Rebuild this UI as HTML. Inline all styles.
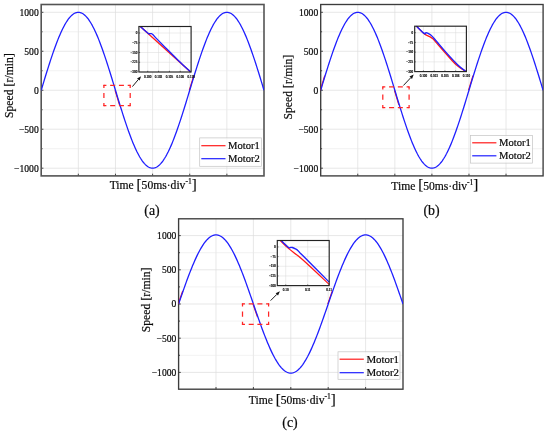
<!DOCTYPE html>
<html lang="en">
<head>
<meta charset="utf-8">
<title>Speed curves</title>
<style>
html,body{margin:0;padding:0;background:#fff;}
body{width:550px;height:434px;overflow:hidden;}
svg{display:block;}
svg text{font-family:'Liberation Serif', 'DejaVu Serif', serif;fill:#0a0a0a;stroke:#0a0a0a;stroke-width:0.2;}
</style>
</head>
<body>
<svg width="550" height="434" viewBox="0 0 550 434">
<rect width="550" height="434" fill="#fff"/>
<path d="M78.33,4.5V175.9M115.47,4.5V175.9M152.6,4.5V175.9M189.73,4.5V175.9M226.87,4.5V175.9" stroke="#dedede" stroke-width="0.7" fill="none"/>
<path d="M41.2,168.2H264M41.2,129.22H264M41.2,90.25H264M41.2,51.28H264M41.2,12.3H264" stroke="#dcdcdc" stroke-width="0.7" fill="none"/>
<path d="M41.2,148.71H264M41.2,109.74H264M41.2,70.76H264M41.2,31.79H264" stroke="#e9e9e9" stroke-width="0.6" fill="none"/>
<path d="M78.33,175.9v-2.2M115.47,175.9v-2.2M152.6,175.9v-2.2M189.73,175.9v-2.2M226.87,175.9v-2.2M41.2,168.2h2.2M41.2,148.71h1.4M41.2,129.22h2.2M41.2,109.74h1.4M41.2,90.25h2.2M41.2,70.76h1.4M41.2,51.28h2.2M41.2,31.79h1.4M41.2,12.3h2.2" stroke="#333" stroke-width="0.9" fill="none"/>
<rect x="41.2" y="4.5" width="222.8" height="171.4" fill="none" stroke="#545454" stroke-width="1.6"/>
<clipPath id="clipa"><rect x="41.2" y="4.5" width="222.8" height="171.4"/></clipPath>
<g clip-path="url(#clipa)">
<path d="M115.07,90.25 L115.62,92.09 L116.18,93.92 L116.74,95.76 L117.29,97.59 L117.85,99.41 L118.41,101.23 L118.97,103.05 L119.52,104.86M189.33,90.25 L189.89,88.41 L190.45,86.58 L191,84.74 L191.56,82.91 L192.12,81.09 L192.68,79.27 L193.23,77.45 L193.79,75.64" stroke="#ff1a1a" stroke-width="1.2" fill="none"/>
<path d="M41.2,90.25 L42.13,87.19 L43.06,84.13 L43.98,81.09 L44.91,78.06 L45.84,75.04 L46.77,72.05 L47.7,69.09 L48.63,66.16 L49.56,63.27 L50.48,60.42 L51.41,57.62 L52.34,54.86 L53.27,52.16 L54.2,49.52 L55.12,46.94 L56.05,44.43 L56.98,41.99 L57.91,39.63 L58.84,37.34 L59.77,35.13 L60.7,33.01 L61.62,30.98 L62.55,29.03 L63.48,27.19 L64.41,25.44 L65.34,23.79 L66.27,22.24 L67.19,20.8 L68.12,19.46 L69.05,18.23 L69.98,17.12 L70.91,16.12 L71.84,15.23 L72.76,14.45 L73.69,13.8 L74.62,13.26 L75.55,12.84 L76.48,12.54 L77.41,12.36 L78.33,12.3 L79.26,12.36 L80.19,12.54 L81.12,12.84 L82.05,13.26 L82.98,13.8 L83.9,14.45 L84.83,15.23 L85.76,16.12 L86.69,17.12 L87.62,18.23 L88.55,19.46 L89.47,20.8 L90.4,22.24 L91.33,23.79 L92.26,25.44 L93.19,27.19 L94.12,29.03 L95.04,30.98 L95.97,33.01 L96.9,35.13 L97.83,37.34 L98.76,39.63 L99.69,41.99 L100.61,44.43 L101.54,46.94 L102.47,49.52 L103.4,52.16 L104.33,54.86 L105.25,57.62 L106.18,60.42 L107.11,63.27 L108.04,66.16 L108.97,69.09 L109.9,72.05 L110.83,75.04 L111.75,78.06 L112.68,81.09 L113.61,84.13 L114.54,87.19 L115.47,90.25 L116.4,93.31 L117.32,96.37 L118.25,99.41 L119.18,102.44 L120.11,105.46 L121.04,108.45 L121.97,111.41 L122.89,114.34 L123.82,117.23 L124.75,120.08 L125.68,122.88 L126.61,125.64 L127.54,128.34 L128.46,130.98 L129.39,133.56 L130.32,136.07 L131.25,138.51 L132.18,140.87 L133.11,143.16 L134.03,145.37 L134.96,147.49 L135.89,149.52 L136.82,151.47 L137.75,153.31 L138.68,155.06 L139.6,156.71 L140.53,158.26 L141.46,159.7 L142.39,161.04 L143.32,162.27 L144.25,163.38 L145.17,164.38 L146.1,165.27 L147.03,166.05 L147.96,166.7 L148.89,167.24 L149.81,167.66 L150.74,167.96 L151.67,168.14 L152.6,168.2 L153.53,168.14 L154.46,167.96 L155.38,167.66 L156.31,167.24 L157.24,166.7 L158.17,166.05 L159.1,165.27 L160.03,164.38 L160.95,163.38 L161.88,162.27 L162.81,161.04 L163.74,159.7 L164.67,158.26 L165.6,156.71 L166.53,155.06 L167.45,153.31 L168.38,151.47 L169.31,149.52 L170.24,147.49 L171.17,145.37 L172.1,143.16 L173.02,140.87 L173.95,138.51 L174.88,136.07 L175.81,133.56 L176.74,130.98 L177.67,128.34 L178.59,125.64 L179.52,122.88 L180.45,120.08 L181.38,117.23 L182.31,114.34 L183.24,111.41 L184.16,108.45 L185.09,105.46 L186.02,102.44 L186.95,99.41 L187.88,96.37 L188.81,93.31 L189.73,90.25 L190.66,87.19 L191.59,84.13 L192.52,81.09 L193.45,78.06 L194.38,75.04 L195.3,72.05 L196.23,69.09 L197.16,66.16 L198.09,63.27 L199.02,60.42 L199.94,57.62 L200.87,54.86 L201.8,52.16 L202.73,49.52 L203.66,46.94 L204.59,44.43 L205.52,41.99 L206.44,39.63 L207.37,37.34 L208.3,35.13 L209.23,33.01 L210.16,30.98 L211.08,29.03 L212.01,27.19 L212.94,25.44 L213.87,23.79 L214.8,22.24 L215.73,20.8 L216.66,19.46 L217.58,18.23 L218.51,17.12 L219.44,16.12 L220.37,15.23 L221.3,14.45 L222.23,13.8 L223.15,13.26 L224.08,12.84 L225.01,12.54 L225.94,12.36 L226.87,12.3 L227.8,12.36 L228.72,12.54 L229.65,12.84 L230.58,13.26 L231.51,13.8 L232.44,14.45 L233.37,15.23 L234.29,16.12 L235.22,17.12 L236.15,18.23 L237.08,19.46 L238.01,20.8 L238.94,22.24 L239.86,23.79 L240.79,25.44 L241.72,27.19 L242.65,29.03 L243.58,30.98 L244.5,33.01 L245.43,35.13 L246.36,37.34 L247.29,39.63 L248.22,41.99 L249.15,44.43 L250.07,46.94 L251,49.52 L251.93,52.16 L252.86,54.86 L253.79,57.62 L254.72,60.42 L255.65,63.27 L256.57,66.16 L257.5,69.09 L258.43,72.05 L259.36,75.04 L260.29,78.06 L261.22,81.09 L262.14,84.13 L263.07,87.19 L264,90.25" stroke="#1f1fff" stroke-width="1.3" fill="none" stroke-linejoin="round"/>
</g>
<text x="38.7" y="15.6" font-size="9.6" text-anchor="end">1000</text>
<text x="38.7" y="54.58" font-size="9.6" text-anchor="end">500</text>
<text x="38.7" y="93.55" font-size="9.6" text-anchor="end">0</text>
<text x="38.7" y="132.53" font-size="9.6" text-anchor="end">−500</text>
<text x="38.7" y="171.5" font-size="9.6" text-anchor="end">−1000</text>
<text transform="translate(12.6,85.5) rotate(-90)" font-size="11.65" text-anchor="middle">Speed <tspan font-size="12.6">[</tspan>r/min<tspan font-size="12.6">]</tspan></text>
<text x="153.2" y="189.3" font-size="11.6" text-anchor="middle">Time <tspan font-size="15" dy="-0.5">[</tspan><tspan dy="0.5">50ms·div</tspan><tspan font-size="7.6" dy="-5">-1</tspan><tspan font-size="15" dy="4.5">]</tspan></text>
<text x="152" y="214.8" font-size="13.9" text-anchor="middle">(a)</text>
<path d="M103.9,85.3H130.2M103.9,105.7H130.2" fill="none" stroke="#ff2626" stroke-width="1.25" stroke-linecap="butt" stroke-dasharray="5 3.77" stroke-dashoffset="2.5"/>
<path d="M103.9,85.3V105.7M130.2,85.3V105.7" fill="none" stroke="#ff2626" stroke-width="1.25" stroke-linecap="butt" stroke-dasharray="5.2 5" stroke-dashoffset="2.6"/>
<path d="M103.28,85.3h1.24M129.58,85.3h1.24M103.28,105.7h1.24M129.58,105.7h1.24" stroke="#ff2626" stroke-width="1.25"/>
<path d="M132.4,86.6L138.34,79.5" stroke="#111" stroke-width="0.95"/>
<path d="M141.1,76.2L139.64,80.59L137.04,78.41Z" fill="#111"/>
<rect x="138.9" y="26.5" width="52.2" height="45.5" fill="#fff"/>
<path d="M138.9,33H191.1M138.9,42.75H191.1M138.9,52.5H191.1M138.9,62.25H191.1M147.72,26.5V72M158.57,26.5V72M169.42,26.5V72M180.26,26.5V72" stroke="#d8d8d8" stroke-width="0.5" fill="none"/>
<path d="M140.31,26.5 L190.58,72" stroke="#ff1a1a" stroke-width="1.3" fill="none" stroke-linejoin="round"/>
<path d="M140.31,26.5C141.7,27.73 146.41,32.03 148.03,33.33C149.66,34.62 148.73,33.62 149.34,33.69C149.95,33.75 150.77,33.51 151.43,33.69C152.09,33.87 152.24,33.98 152.99,34.69C153.75,35.4 153.44,35.4 155.6,37.65C157.77,39.9 160.96,43.15 165,47.2C169.04,51.26 173.45,55.71 178.05,60.17C182.65,64.63 188.32,69.87 190.58,72" stroke="#1f1fff" stroke-width="1.35" fill="none" stroke-linejoin="round"/>
<path d="M138.9,33h1.2M138.9,42.75h1.2M138.9,52.5h1.2M138.9,62.25h1.2M147.72,72v-1.2M158.57,72v-1.2M169.42,72v-1.2M180.26,72v-1.2" stroke="#222" stroke-width="0.6" fill="none"/>
<rect x="138.9" y="26.5" width="52.2" height="45.5" fill="none" stroke="#222" stroke-width="1.15"/>
<text x="137.3" y="34.2" font-size="3.3" text-anchor="end" fill="#6a6a6a" stroke="none">0</text>
<text x="137.3" y="43.95" font-size="3.3" text-anchor="end" fill="#6a6a6a" stroke="none">−75</text>
<text x="137.3" y="53.7" font-size="3.3" text-anchor="end" fill="#6a6a6a" stroke="none">−150</text>
<text x="137.3" y="63.45" font-size="3.3" text-anchor="end" fill="#6a6a6a" stroke="none">−225</text>
<text x="137.3" y="73.2" font-size="3.3" text-anchor="end" fill="#6a6a6a" stroke="none">−300</text>
<text x="147.72" y="77.5" font-size="3.3" text-anchor="middle" fill="#6a6a6a" stroke="none">0.100</text>
<text x="158.57" y="77.5" font-size="3.3" text-anchor="middle" fill="#6a6a6a" stroke="none">0.103</text>
<text x="169.42" y="77.5" font-size="3.3" text-anchor="middle" fill="#6a6a6a" stroke="none">0.105</text>
<text x="180.26" y="77.5" font-size="3.3" text-anchor="middle" fill="#6a6a6a" stroke="none">0.108</text>
<text x="191.11" y="77.5" font-size="3.3" text-anchor="middle" fill="#6a6a6a" stroke="none">0.110</text>
<rect x="199.7" y="137.9" width="61.9" height="28.4" fill="#fff" fill-opacity="0.75" stroke="#c4c4c4" stroke-width="0.7"/>
<path d="M201.3,145.7h24.2" stroke="#ff1a1a" stroke-width="1.2"/>
<path d="M201.3,158.7h24.2" stroke="#1f1fff" stroke-width="1.2"/>
<text x="228.1" y="149.1" font-size="10.6">Motor1</text>
<text x="228.1" y="162.1" font-size="10.6">Motor2</text>
<path d="M357.77,4.5V175.9M394.83,4.5V175.9M431.9,4.5V175.9M468.97,4.5V175.9M506.03,4.5V175.9" stroke="#dedede" stroke-width="0.7" fill="none"/>
<path d="M320.7,168.2H543.1M320.7,129.22H543.1M320.7,90.25H543.1M320.7,51.28H543.1M320.7,12.3H543.1" stroke="#dcdcdc" stroke-width="0.7" fill="none"/>
<path d="M320.7,148.71H543.1M320.7,109.74H543.1M320.7,70.76H543.1M320.7,31.79H543.1" stroke="#e9e9e9" stroke-width="0.6" fill="none"/>
<path d="M357.77,175.9v-2.2M394.83,175.9v-2.2M431.9,175.9v-2.2M468.97,175.9v-2.2M506.03,175.9v-2.2M320.7,168.2h2.2M320.7,148.71h1.4M320.7,129.22h2.2M320.7,109.74h1.4M320.7,90.25h2.2M320.7,70.76h1.4M320.7,51.28h2.2M320.7,31.79h1.4M320.7,12.3h2.2" stroke="#333" stroke-width="0.9" fill="none"/>
<rect x="320.7" y="4.5" width="222.4" height="171.4" fill="none" stroke="#3c3c3c" stroke-width="1.35"/>
<clipPath id="clipb"><rect x="320.7" y="4.5" width="222.4" height="171.4"/></clipPath>
<g clip-path="url(#clipb)">
<path d="M320.3,90.25 L320.86,88.41 L321.41,86.58 L321.97,84.74 L322.52,82.91 L323.08,81.09 L323.64,79.27 L324.19,77.45 L324.75,75.64M394.43,90.25 L394.99,92.09 L395.55,93.92 L396.1,95.76 L396.66,97.59 L397.21,99.41 L397.77,101.23 L398.33,103.05 L398.88,104.86M468.57,90.25 L469.12,88.41 L469.68,86.58 L470.23,84.74 L470.79,82.91 L471.35,81.09 L471.9,79.27 L472.46,77.45 L473.01,75.64" stroke="#ff1a1a" stroke-width="1.2" fill="none"/>
<path d="M320.7,90.25 L321.63,87.19 L322.55,84.13 L323.48,81.09 L324.41,78.06 L325.33,75.04 L326.26,72.05 L327.19,69.09 L328.11,66.16 L329.04,63.27 L329.97,60.42 L330.89,57.62 L331.82,54.86 L332.75,52.16 L333.67,49.52 L334.6,46.94 L335.53,44.43 L336.45,41.99 L337.38,39.63 L338.31,37.34 L339.23,35.13 L340.16,33.01 L341.09,30.98 L342.01,29.03 L342.94,27.19 L343.87,25.44 L344.79,23.79 L345.72,22.24 L346.65,20.8 L347.57,19.46 L348.5,18.23 L349.43,17.12 L350.35,16.12 L351.28,15.23 L352.21,14.45 L353.13,13.8 L354.06,13.26 L354.99,12.84 L355.91,12.54 L356.84,12.36 L357.77,12.3 L358.69,12.36 L359.62,12.54 L360.55,12.84 L361.47,13.26 L362.4,13.8 L363.33,14.45 L364.25,15.23 L365.18,16.12 L366.11,17.12 L367.03,18.23 L367.96,19.46 L368.89,20.8 L369.81,22.24 L370.74,23.79 L371.67,25.44 L372.59,27.19 L373.52,29.03 L374.45,30.98 L375.37,33.01 L376.3,35.13 L377.23,37.34 L378.15,39.63 L379.08,41.99 L380.01,44.43 L380.93,46.94 L381.86,49.52 L382.79,52.16 L383.71,54.86 L384.64,57.62 L385.57,60.42 L386.49,63.27 L387.42,66.16 L388.35,69.09 L389.27,72.05 L390.2,75.04 L391.13,78.06 L392.05,81.09 L392.98,84.13 L393.91,87.19 L394.83,90.25 L395.76,93.31 L396.69,96.37 L397.61,99.41 L398.54,102.44 L399.47,105.46 L400.39,108.45 L401.32,111.41 L402.25,114.34 L403.17,117.23 L404.1,120.08 L405.03,122.88 L405.95,125.64 L406.88,128.34 L407.81,130.98 L408.73,133.56 L409.66,136.07 L410.59,138.51 L411.51,140.87 L412.44,143.16 L413.37,145.37 L414.29,147.49 L415.22,149.52 L416.15,151.47 L417.07,153.31 L418,155.06 L418.93,156.71 L419.85,158.26 L420.78,159.7 L421.71,161.04 L422.63,162.27 L423.56,163.38 L424.49,164.38 L425.41,165.27 L426.34,166.05 L427.27,166.7 L428.19,167.24 L429.12,167.66 L430.05,167.96 L430.97,168.14 L431.9,168.2 L432.83,168.14 L433.75,167.96 L434.68,167.66 L435.61,167.24 L436.53,166.7 L437.46,166.05 L438.39,165.27 L439.31,164.38 L440.24,163.38 L441.17,162.27 L442.09,161.04 L443.02,159.7 L443.95,158.26 L444.87,156.71 L445.8,155.06 L446.73,153.31 L447.65,151.47 L448.58,149.52 L449.51,147.49 L450.43,145.37 L451.36,143.16 L452.29,140.87 L453.21,138.51 L454.14,136.07 L455.07,133.56 L455.99,130.98 L456.92,128.34 L457.85,125.64 L458.77,122.88 L459.7,120.08 L460.63,117.23 L461.55,114.34 L462.48,111.41 L463.41,108.45 L464.33,105.46 L465.26,102.44 L466.19,99.41 L467.11,96.37 L468.04,93.31 L468.97,90.25 L469.89,87.19 L470.82,84.13 L471.75,81.09 L472.67,78.06 L473.6,75.04 L474.53,72.05 L475.45,69.09 L476.38,66.16 L477.31,63.27 L478.23,60.42 L479.16,57.62 L480.09,54.86 L481.01,52.16 L481.94,49.52 L482.87,46.94 L483.79,44.43 L484.72,41.99 L485.65,39.63 L486.57,37.34 L487.5,35.13 L488.43,33.01 L489.35,30.98 L490.28,29.03 L491.21,27.19 L492.13,25.44 L493.06,23.79 L493.99,22.24 L494.91,20.8 L495.84,19.46 L496.77,18.23 L497.69,17.12 L498.62,16.12 L499.55,15.23 L500.47,14.45 L501.4,13.8 L502.33,13.26 L503.25,12.84 L504.18,12.54 L505.11,12.36 L506.03,12.3 L506.96,12.36 L507.89,12.54 L508.81,12.84 L509.74,13.26 L510.67,13.8 L511.59,14.45 L512.52,15.23 L513.45,16.12 L514.37,17.12 L515.3,18.23 L516.23,19.46 L517.15,20.8 L518.08,22.24 L519.01,23.79 L519.93,25.44 L520.86,27.19 L521.79,29.03 L522.71,30.98 L523.64,33.01 L524.57,35.13 L525.49,37.34 L526.42,39.63 L527.35,41.99 L528.27,44.43 L529.2,46.94 L530.13,49.52 L531.05,52.16 L531.98,54.86 L532.91,57.62 L533.83,60.42 L534.76,63.27 L535.69,66.16 L536.61,69.09 L537.54,72.05 L538.47,75.04 L539.39,78.06 L540.32,81.09 L541.25,84.13 L542.17,87.19 L543.1,90.25" stroke="#1f1fff" stroke-width="1.3" fill="none" stroke-linejoin="round"/>
</g>
<text x="318.2" y="15.6" font-size="9.6" text-anchor="end">1000</text>
<text x="318.2" y="54.58" font-size="9.6" text-anchor="end">500</text>
<text x="318.2" y="93.55" font-size="9.6" text-anchor="end">0</text>
<text x="318.2" y="132.53" font-size="9.6" text-anchor="end">−500</text>
<text x="318.2" y="171.5" font-size="9.6" text-anchor="end">−1000</text>
<text transform="translate(291.9,87) rotate(-90)" font-size="11.65" text-anchor="middle">Speed <tspan font-size="12.6">[</tspan>r/min<tspan font-size="12.6">]</tspan></text>
<text x="434.8" y="189.9" font-size="11.6" text-anchor="middle">Time <tspan font-size="15" dy="-0.5">[</tspan><tspan dy="0.5">50ms·div</tspan><tspan font-size="7.6" dy="-5">-1</tspan><tspan font-size="15" dy="4.5">]</tspan></text>
<text x="431.5" y="214.8" font-size="13.9" text-anchor="middle">(b)</text>
<path d="M382.8,86.9H409.1M382.8,107.5H409.1" fill="none" stroke="#ff2626" stroke-width="1.25" stroke-linecap="butt" stroke-dasharray="5 3.77" stroke-dashoffset="2.5"/>
<path d="M382.8,86.9V107.5M409.1,86.9V107.5" fill="none" stroke="#ff2626" stroke-width="1.25" stroke-linecap="butt" stroke-dasharray="5.2 5.1" stroke-dashoffset="2.6"/>
<path d="M382.18,86.9h1.24M408.48,86.9h1.24M382.18,107.5h1.24M408.48,107.5h1.24" stroke="#ff2626" stroke-width="1.25"/>
<path d="M403.4,85.5L410.75,77.73" stroke="#111" stroke-width="0.95"/>
<path d="M413.7,74.6L411.98,78.89L409.51,76.56Z" fill="#111"/>
<rect x="414.7" y="26.2" width="51.7" height="45.4" fill="#fff"/>
<path d="M414.7,32.69H466.4M414.7,42.41H466.4M414.7,52.14H466.4M414.7,61.87H466.4M423.44,26.2V71.6M434.18,26.2V71.6M444.92,26.2V71.6M455.67,26.2V71.6" stroke="#d8d8d8" stroke-width="0.5" fill="none"/>
<path d="M416.51,26.2C417.89,27.55 421.79,31.82 424.16,33.69C426.53,35.56 428.06,35.65 429.69,36.6C431.32,37.54 431.94,37.78 433.21,38.96C434.47,40.13 434.33,40.38 436.72,43.13C439.12,45.89 442.99,50.38 446.5,54.26C450,58.13 452.78,61.58 456.22,64.65C459.65,67.73 463.89,70.13 465.57,71.33" stroke="#ff1a1a" stroke-width="1.3" fill="none" stroke-linejoin="round"/>
<path d="M416.51,26.2C417.89,27.5 422.53,32.23 424.16,33.42C425.79,34.61 424.93,32.9 425.56,32.83C426.18,32.75 426.74,32.65 427.62,33.01C428.51,33.37 429.21,33.76 430.47,34.83C431.72,35.9 431.72,35.71 434.6,38.96C437.49,42.2 442.35,48.22 446.5,52.85C450.64,57.48 454.18,61.33 457.61,64.65C461.04,67.98 464.14,70.13 465.57,71.33" stroke="#1f1fff" stroke-width="1.35" fill="none" stroke-linejoin="round"/>
<path d="M414.7,32.69h1.2M414.7,42.41h1.2M414.7,52.14h1.2M414.7,61.87h1.2M423.44,71.6v-1.2M434.18,71.6v-1.2M444.92,71.6v-1.2M455.67,71.6v-1.2" stroke="#222" stroke-width="0.6" fill="none"/>
<rect x="414.7" y="26.2" width="51.7" height="45.4" fill="none" stroke="#222" stroke-width="1.15"/>
<text x="413.1" y="33.89" font-size="3.3" text-anchor="end" fill="#6a6a6a" stroke="none">0</text>
<text x="413.1" y="43.61" font-size="3.3" text-anchor="end" fill="#6a6a6a" stroke="none">−75</text>
<text x="413.1" y="53.34" font-size="3.3" text-anchor="end" fill="#6a6a6a" stroke="none">−150</text>
<text x="413.1" y="63.07" font-size="3.3" text-anchor="end" fill="#6a6a6a" stroke="none">−225</text>
<text x="413.1" y="72.8" font-size="3.3" text-anchor="end" fill="#6a6a6a" stroke="none">−300</text>
<text x="423.44" y="77.1" font-size="3.3" text-anchor="middle" fill="#6a6a6a" stroke="none">0.100</text>
<text x="434.18" y="77.1" font-size="3.3" text-anchor="middle" fill="#6a6a6a" stroke="none">0.103</text>
<text x="444.92" y="77.1" font-size="3.3" text-anchor="middle" fill="#6a6a6a" stroke="none">0.105</text>
<text x="455.67" y="77.1" font-size="3.3" text-anchor="middle" fill="#6a6a6a" stroke="none">0.108</text>
<text x="466.41" y="77.1" font-size="3.3" text-anchor="middle" fill="#6a6a6a" stroke="none">0.110</text>
<rect x="470.6" y="135.6" width="62" height="27.5" fill="#fff" fill-opacity="0.75" stroke="#c4c4c4" stroke-width="0.7"/>
<path d="M472.2,142.8h24.2" stroke="#ff1a1a" stroke-width="1.2"/>
<path d="M472.2,155.8h24.2" stroke="#1f1fff" stroke-width="1.2"/>
<text x="499" y="146.2" font-size="10.6">Motor1</text>
<text x="499" y="159.2" font-size="10.6">Motor2</text>
<path d="M216,218.8V389.2M253.4,218.8V389.2M290.8,218.8V389.2M328.2,218.8V389.2M365.6,218.8V389.2" stroke="#dedede" stroke-width="0.7" fill="none"/>
<path d="M178.6,372.4H403M178.6,338.2H403M178.6,304H403M178.6,269.8H403M178.6,235.6H403" stroke="#dcdcdc" stroke-width="0.7" fill="none"/>
<path d="M178.6,355.3H403M178.6,321.1H403M178.6,286.9H403M178.6,252.7H403" stroke="#e9e9e9" stroke-width="0.6" fill="none"/>
<path d="M216,389.2v-2.2M253.4,389.2v-2.2M290.8,389.2v-2.2M328.2,389.2v-2.2M365.6,389.2v-2.2M178.6,372.4h2.2M178.6,355.3h1.4M178.6,338.2h2.2M178.6,321.1h1.4M178.6,304h2.2M178.6,286.9h1.4M178.6,269.8h2.2M178.6,252.7h1.4M178.6,235.6h2.2" stroke="#333" stroke-width="0.9" fill="none"/>
<rect x="178.6" y="218.8" width="224.4" height="170.4" fill="none" stroke="#3c3c3c" stroke-width="1.35"/>
<clipPath id="clipc"><rect x="178.6" y="218.8" width="224.4" height="170.4"/></clipPath>
<g clip-path="url(#clipc)">
<path d="M178.2,304 L178.76,302.37 L179.32,300.75 L179.88,299.12 L180.44,297.5 L181,295.88 L181.57,294.27 L182.13,292.66 L182.69,291.05M253,304 L253.56,305.63 L254.12,307.25 L254.68,308.88 L255.24,310.5 L255.8,312.12 L256.37,313.73 L256.93,315.34 L257.49,316.95M327.8,304 L328.36,302.37 L328.92,300.75 L329.48,299.12 L330.04,297.5 L330.61,295.88 L331.17,294.27 L331.73,292.66 L332.29,291.05" stroke="#ff1a1a" stroke-width="1.2" fill="none"/>
<path d="M178.6,304 L179.53,301.29 L180.47,298.58 L181.41,295.88 L182.34,293.19 L183.28,290.52 L184.21,287.87 L185.14,285.25 L186.08,282.65 L187.01,280.09 L187.95,277.56 L188.88,275.08 L189.82,272.64 L190.75,270.24 L191.69,267.9 L192.62,265.62 L193.56,263.39 L194.5,261.23 L195.43,259.13 L196.37,257.11 L197.3,255.15 L198.23,253.27 L199.17,251.47 L200.1,249.75 L201.04,248.11 L201.97,246.56 L202.91,245.1 L203.84,243.72 L204.78,242.45 L205.72,241.26 L206.65,240.17 L207.59,239.19 L208.52,238.3 L209.45,237.51 L210.39,236.82 L211.32,236.24 L212.26,235.77 L213.19,235.39 L214.13,235.13 L215.06,234.97 L216,234.92 L216.94,234.97 L217.87,235.13 L218.81,235.39 L219.74,235.77 L220.68,236.24 L221.61,236.82 L222.54,237.51 L223.48,238.3 L224.41,239.19 L225.35,240.17 L226.28,241.26 L227.22,242.45 L228.16,243.72 L229.09,245.1 L230.02,246.56 L230.96,248.11 L231.89,249.75 L232.83,251.47 L233.76,253.27 L234.7,255.15 L235.63,257.11 L236.57,259.13 L237.5,261.23 L238.44,263.39 L239.38,265.62 L240.31,267.9 L241.25,270.24 L242.18,272.64 L243.12,275.08 L244.05,277.56 L244.99,280.09 L245.92,282.65 L246.85,285.25 L247.79,287.87 L248.72,290.52 L249.66,293.19 L250.59,295.88 L251.53,298.58 L252.46,301.29 L253.4,304 L254.34,306.71 L255.27,309.42 L256.2,312.12 L257.14,314.81 L258.07,317.48 L259.01,320.13 L259.94,322.75 L260.88,325.35 L261.81,327.91 L262.75,330.44 L263.69,332.92 L264.62,335.36 L265.56,337.76 L266.49,340.1 L267.43,342.38 L268.36,344.61 L269.3,346.77 L270.23,348.87 L271.16,350.89 L272.1,352.85 L273.03,354.73 L273.97,356.53 L274.9,358.25 L275.84,359.89 L276.77,361.44 L277.71,362.9 L278.64,364.28 L279.58,365.55 L280.51,366.74 L281.45,367.83 L282.38,368.81 L283.32,369.7 L284.25,370.49 L285.19,371.18 L286.12,371.76 L287.06,372.23 L288,372.61 L288.93,372.87 L289.87,373.03 L290.8,373.08 L291.74,373.03 L292.67,372.87 L293.61,372.61 L294.54,372.23 L295.48,371.76 L296.41,371.18 L297.35,370.49 L298.28,369.7 L299.21,368.81 L300.15,367.83 L301.08,366.74 L302.02,365.55 L302.95,364.28 L303.89,362.9 L304.82,361.44 L305.76,359.89 L306.69,358.25 L307.63,356.53 L308.56,354.73 L309.5,352.85 L310.44,350.89 L311.37,348.87 L312.31,346.77 L313.24,344.61 L314.17,342.38 L315.11,340.1 L316.05,337.76 L316.98,335.36 L317.91,332.92 L318.85,330.44 L319.78,327.91 L320.72,325.35 L321.65,322.75 L322.59,320.13 L323.52,317.48 L324.46,314.81 L325.39,312.12 L326.33,309.42 L327.26,306.71 L328.2,304 L329.13,301.29 L330.07,298.58 L331,295.88 L331.94,293.19 L332.88,290.52 L333.81,287.87 L334.75,285.25 L335.68,282.65 L336.62,280.09 L337.55,277.56 L338.49,275.08 L339.42,272.64 L340.36,270.24 L341.29,267.9 L342.23,265.62 L343.16,263.39 L344.1,261.23 L345.03,259.13 L345.97,257.11 L346.9,255.15 L347.84,253.27 L348.77,251.47 L349.7,249.75 L350.64,248.11 L351.58,246.56 L352.51,245.1 L353.44,243.72 L354.38,242.45 L355.31,241.26 L356.25,240.17 L357.18,239.19 L358.12,238.3 L359.06,237.51 L359.99,236.82 L360.93,236.24 L361.86,235.77 L362.79,235.39 L363.73,235.13 L364.67,234.97 L365.6,234.92 L366.53,234.97 L367.47,235.13 L368.4,235.39 L369.34,235.77 L370.27,236.24 L371.21,236.82 L372.14,237.51 L373.08,238.3 L374.01,239.19 L374.95,240.17 L375.88,241.26 L376.82,242.45 L377.75,243.72 L378.69,245.1 L379.62,246.56 L380.56,248.11 L381.5,249.75 L382.43,251.47 L383.37,253.27 L384.3,255.15 L385.24,257.11 L386.17,259.13 L387.11,261.23 L388.04,263.39 L388.98,265.62 L389.91,267.9 L390.85,270.24 L391.78,272.64 L392.72,275.08 L393.65,277.56 L394.59,280.09 L395.52,282.65 L396.45,285.25 L397.39,287.87 L398.32,290.52 L399.26,293.19 L400.2,295.88 L401.13,298.58 L402.06,301.29 L403,304" stroke="#1f1fff" stroke-width="1.3" fill="none" stroke-linejoin="round"/>
</g>
<text x="176.3" y="238.9" font-size="9.6" text-anchor="end">1000</text>
<text x="176.3" y="273.1" font-size="9.6" text-anchor="end">500</text>
<text x="176.3" y="307.3" font-size="9.6" text-anchor="end">0</text>
<text x="176.3" y="341.5" font-size="9.6" text-anchor="end">−500</text>
<text x="176.3" y="375.7" font-size="9.6" text-anchor="end">−1000</text>
<text transform="translate(149.8,299.7) rotate(-90)" font-size="11.65" text-anchor="middle">Speed <tspan font-size="12.6">[</tspan>r/min<tspan font-size="12.6">]</tspan></text>
<text x="292.3" y="404" font-size="11.6" text-anchor="middle">Time <tspan font-size="15" dy="-0.5">[</tspan><tspan dy="0.5">50ms·div</tspan><tspan font-size="7.6" dy="-5">-1</tspan><tspan font-size="15" dy="4.5">]</tspan></text>
<text x="290" y="427" font-size="13.9" text-anchor="middle">(c)</text>
<path d="M242.5,303.8H268.6M242.5,324.4H268.6" fill="none" stroke="#ff2626" stroke-width="1.25" stroke-linecap="butt" stroke-dasharray="5 3.7" stroke-dashoffset="2.5"/>
<path d="M242.5,303.8V324.4M268.6,303.8V324.4" fill="none" stroke="#ff2626" stroke-width="1.25" stroke-linecap="butt" stroke-dasharray="5.2 5.1" stroke-dashoffset="2.6"/>
<path d="M241.88,303.8h1.24M267.98,303.8h1.24M241.88,324.4h1.24M267.98,324.4h1.24" stroke="#ff2626" stroke-width="1.25"/>
<path d="M270.6,300.6L276.86,294.34" stroke="#111" stroke-width="0.95"/>
<path d="M279.9,291.3L278.06,295.54L275.66,293.14Z" fill="#111"/>
<rect x="277.3" y="240.5" width="51.9" height="45.1" fill="#fff"/>
<path d="M277.3,246.94H329.2M277.3,256.61H329.2M277.3,266.27H329.2M277.3,275.94H329.2M285.71,240.5V285.6M307.71,240.5V285.6" stroke="#d8d8d8" stroke-width="0.5" fill="none"/>
<path d="M280.21,240.5C281.74,241.96 284.66,245.15 288.72,248.62C292.77,252.08 295.44,253.3 302.73,259.76C310.02,266.21 324.44,280.02 329.2,284.47" stroke="#ff1a1a" stroke-width="1.3" fill="none" stroke-linejoin="round"/>
<path d="M281.19,240.5C282.55,241.76 287.04,246.26 288.72,247.49C290.4,248.72 289.88,247.36 290.53,247.36C291.19,247.36 291.56,247.26 292.35,247.49C293.15,247.72 293.92,248.04 294.95,248.62C295.97,249.19 296.66,249.44 298.06,250.69C299.46,251.94 297.13,249.91 302.73,255.56C308.34,261.22 324.44,277.35 329.2,282.13" stroke="#1f1fff" stroke-width="1.35" fill="none" stroke-linejoin="round"/>
<path d="M277.3,246.94h1.2M277.3,256.61h1.2M277.3,266.27h1.2M277.3,275.94h1.2M285.71,285.6v-1.2M307.71,285.6v-1.2" stroke="#222" stroke-width="0.6" fill="none"/>
<rect x="277.3" y="240.5" width="51.9" height="45.1" fill="none" stroke="#222" stroke-width="1.15"/>
<text x="275.7" y="248.14" font-size="3.3" text-anchor="end" fill="#6a6a6a" stroke="none">0</text>
<text x="275.7" y="257.81" font-size="3.3" text-anchor="end" fill="#6a6a6a" stroke="none">−75</text>
<text x="275.7" y="267.47" font-size="3.3" text-anchor="end" fill="#6a6a6a" stroke="none">−150</text>
<text x="275.7" y="277.14" font-size="3.3" text-anchor="end" fill="#6a6a6a" stroke="none">−225</text>
<text x="275.7" y="286.8" font-size="3.3" text-anchor="end" fill="#6a6a6a" stroke="none">−300</text>
<text x="285.71" y="291.1" font-size="3.3" text-anchor="middle" fill="#6a6a6a" stroke="none">0.10</text>
<text x="307.71" y="291.1" font-size="3.3" text-anchor="middle" fill="#6a6a6a" stroke="none">0.11</text>
<text x="329.2" y="291.1" font-size="3.3" text-anchor="middle" fill="#6a6a6a" stroke="none">0.11</text>
<rect x="338" y="351.8" width="62" height="27.5" fill="#fff" fill-opacity="0.75" stroke="#c4c4c4" stroke-width="0.7"/>
<path d="M339.6,359.2h24.2" stroke="#ff1a1a" stroke-width="1.2"/>
<path d="M339.6,372.7h24.2" stroke="#1f1fff" stroke-width="1.2"/>
<text x="366.4" y="362.6" font-size="10.9">Motor1</text>
<text x="366.4" y="376.1" font-size="10.9">Motor2</text>
</svg>
</body>
</html>
